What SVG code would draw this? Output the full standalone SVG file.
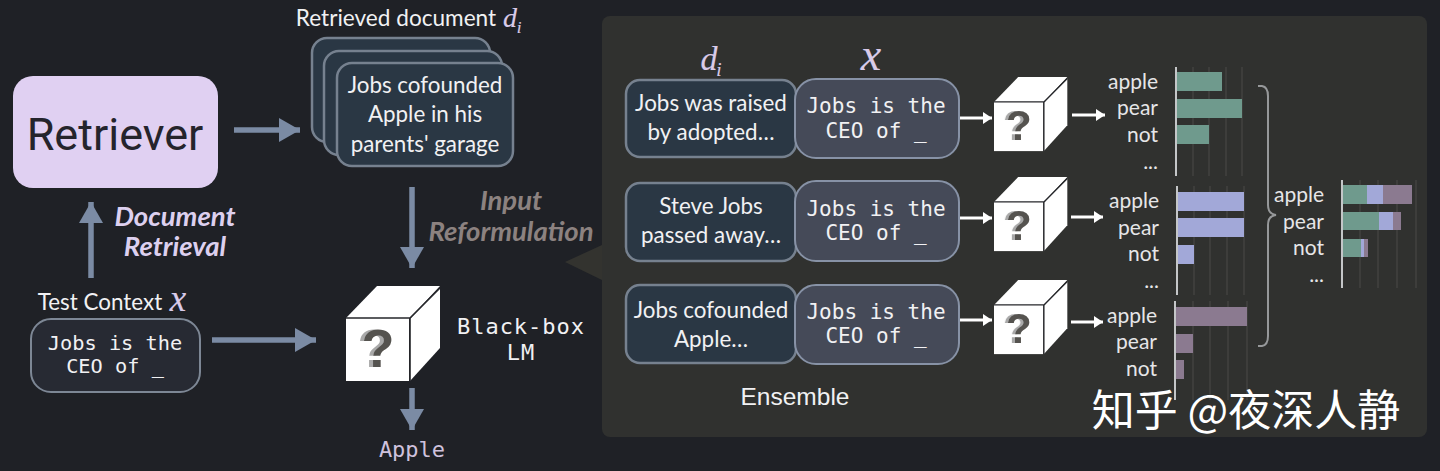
<svg xmlns="http://www.w3.org/2000/svg" xmlns:xlink="http://www.w3.org/1999/xlink" width="1440" height="471" viewBox="0 0 1440 471">
<style>
text{font-family:"Lato","Noto Sans",sans-serif;fill:#f1f1f3;text-anchor:middle}
.mono{font-family:"DejaVu Sans Mono","Liberation Mono",monospace}
.m21{font-size:21px}
.m20{font-size:20.3px}
.doc{font-size:22.4px}
.math{font-family:"Liberation Serif",serif;font-style:italic;fill:#d9cbe9;stroke:#d9cbe9;stroke-width:.15}
.lab{font-size:21px;text-anchor:end;fill:#e6e6e8}
.em{font-size:27.5px;font-weight:700;font-style:italic}
.docbox{fill:#2a3744;stroke:#76818f;stroke-width:2.5}
.ctx{fill:#454a58;stroke:#8792a6;stroke-width:2}
.big{stroke:#7b8ba4;stroke-width:5.5;fill:none}
.small{stroke:#fff;stroke-width:3;fill:none}
.axis{stroke:#c4c6c8;stroke-width:2}
.grid{stroke:#4a4b49;stroke-width:1}
.g{fill:#6f9a8d}.b{fill:#a2a8d8}.p{fill:#8b7a90}
.q{font-family:"Liberation Sans",sans-serif;font-weight:700;fill:#55534f;font-size:54px;filter:url(#ghost)}
</style>
<defs>
<marker id="h1" markerUnits="userSpaceOnUse" markerWidth="22" markerHeight="24" refX="21" refY="12" orient="auto"><path d="M0 0L21 12L0 24Z" fill="#7b8ba4"/></marker>
<marker id="h2" markerUnits="userSpaceOnUse" markerWidth="10" markerHeight="12" refX="9" refY="6" orient="auto"><path d="M0 0L9 6L0 12Z" fill="#fff"/></marker>
<filter id="ghost" x="-50%" y="-20%" width="200%" height="140%"><feDropShadow dx="-4" dy="0" stdDeviation="0.6" flood-color="#a9a9a9"/></filter>
<g id="cube">
<path d="M0 32L31 0H94L64 32Z" fill="#fff"/>
<path d="M64 33L94 2V62L64 95Z" fill="#fff"/>
<rect x="0" y="32" width="63" height="63" fill="#fff"/>
<path d="M0 32H64V95M64 32L94 2" fill="none" stroke="#26272b" stroke-width="1.6"/>
<text class="q" x="32" y="81">?</text>
</g>
</defs>
<rect width="1440" height="471" fill="#1f2126"/>
<g id="panel">
<path d="M565 262L602 245V280Z" fill="#33332f"/>
<rect x="602" y="16" width="825" height="421" rx="8" fill="#30312f"/>
</g>
<g id="connectors">
<line class="big" x1="234" y1="130" x2="300" y2="130" marker-end="url(#h1)"/>
<line class="big" x1="91" y1="278" x2="91" y2="202" marker-end="url(#h1)"/>
<line class="big" x1="412" y1="187" x2="412" y2="268" marker-end="url(#h1)"/>
<line class="big" x1="212" y1="340" x2="316" y2="340" marker-end="url(#h1)"/>
<line class="big" x1="412" y1="388" x2="412" y2="430" marker-end="url(#h1)"/>
<line class="small" x1="960" y1="118" x2="992" y2="118" marker-end="url(#h2)"/>
<line class="small" x1="1072" y1="115" x2="1105" y2="115" marker-end="url(#h2)"/>
<line class="small" x1="960" y1="218" x2="992" y2="218" marker-end="url(#h2)"/>
<line class="small" x1="1071" y1="217" x2="1103" y2="217" marker-end="url(#h2)"/>
<line class="small" x1="960" y1="320" x2="992" y2="320" marker-end="url(#h2)"/>
<line class="small" x1="1071" y1="322" x2="1103" y2="322" marker-end="url(#h2)"/>
</g>
<g id="retriever">
<rect x="13" y="76" width="205" height="112" rx="20" fill="#e0d0f2"/>
<text x="115" y="150" font-size="45" style="font-family:Roboto,sans-serif;fill:#25242c">Retriever</text>
</g>
<g id="doc-label"><text x="396" y="26" font-size="22.6">Retrieved document</text><text class="math" x="510" y="27" font-size="28">d</text><text class="math" x="519" y="33" font-size="17">i</text></g>
<g id="doc-stack">
<rect class="docbox" x="312" y="38" width="178" height="104" rx="15"/>
<rect class="docbox" x="324" y="51" width="178" height="104" rx="15"/>
<rect class="docbox" x="337" y="63" width="176" height="103" rx="15"/>
<text class="doc" x="425" y="93">Jobs cofounded</text>
<text class="doc" x="425" y="122">Apple in his</text>
<text class="doc" x="425" y="152">parents' garage</text>
</g>
<g id="doc-retrieval"><text class="em" x="175" y="226" style="fill:#ddd0ef">Document</text><text class="em" x="175" y="256" style="fill:#ddd0ef">Retrieval</text></g>
<g id="input-reformulation"><text class="em" x="511" y="210" style="fill:#8c8280">Input</text><text class="em" x="511" y="241" style="fill:#8c8280">Reformulation</text></g>
<g id="test-context">
<text x="100" y="310" font-size="22.4">Test Context</text><text class="math" x="178" y="311" font-size="37">x</text>
<rect x="31" y="319" width="169" height="73" rx="20" fill="#272a33" stroke="#7d8795" stroke-width="2"/>
<text class="mono m20" x="115" y="350">Jobs is the</text>
<text class="mono m20" x="115" y="373">CEO of _</text>
</g>
<g id="black-box"><use href="#cube" xlink:href="#cube" x="346" y="286"/>
<text class="mono" font-size="22" x="521" y="334" letter-spacing="1">Black-box</text><text class="mono" font-size="22" x="521" y="360" letter-spacing="1">LM</text></g>
<g id="apple-output"><text class="mono" x="412" y="457" font-size="22" style="fill:#cfc2dd">Apple</text></g>
<g id="column-heads"><text class="math" x="709" y="70" font-size="34">d</text><text class="math" x="719" y="76" font-size="19">i</text><text class="math" x="871" y="70" font-size="46">x</text></g>
<g id="row1">
<rect class="docbox" x="626" y="80" width="170" height="77" rx="14"/>
<rect class="ctx" x="795" y="79" width="164" height="79" rx="21"/>
<text class="doc" x="711" y="111">Jobs was raised</text><text class="doc" x="711" y="140">by adopted…</text>
<text class="mono m21" x="876" y="113">Jobs is the</text><text class="mono m21" x="876" y="138">CEO of _</text>
<g transform="translate(994 77) scale(.78 .78)"><use href="#cube" xlink:href="#cube"/></g>
</g>
<g id="row2">
<rect class="docbox" x="626" y="183" width="170" height="78" rx="14"/>
<rect class="ctx" x="795" y="181" width="164" height="80" rx="21"/>
<text class="doc" x="711" y="214">Steve Jobs</text><text class="doc" x="711" y="243">passed away…</text>
<text class="mono m21" x="876" y="216">Jobs is the</text><text class="mono m21" x="876" y="240">CEO of _</text>
<g transform="translate(994 177) scale(.78 .78)"><use href="#cube" xlink:href="#cube"/></g>
</g>
<g id="row3">
<rect class="docbox" x="626" y="285" width="170" height="78" rx="14"/>
<rect class="ctx" x="795" y="285" width="164" height="79" rx="21"/>
<text class="doc" x="711" y="318">Jobs cofounded</text><text class="doc" x="711" y="347">Apple…</text>
<text class="mono m21" x="876" y="319">Jobs is the</text><text class="mono m21" x="876" y="343">CEO of _</text>
<g transform="translate(994 280) scale(.78 .78)"><use href="#cube" xlink:href="#cube"/></g>
</g>
<g id="chart1">
<path class="grid" d="M1193 67V176M1209 67V176M1226 67V176M1242 67V176"/>
<rect class="g" x="1176" y="72" width="46" height="19"/><rect class="g" x="1176" y="99" width="66" height="19"/><rect class="g" x="1176" y="125" width="33" height="19"/>
<line class="axis" x1="1176" y1="67" x2="1176" y2="176"/>
<text class="lab" x="1158" y="89">apple</text><text class="lab" x="1158" y="115">pear</text><text class="lab" x="1158" y="142">not</text><text class="lab" x="1158" y="169">...</text>
</g>
<g id="chart2">
<path class="grid" d="M1194 186V295M1210 186V295M1227 186V295M1244 186V295"/>
<rect class="b" x="1177" y="192" width="67" height="19"/><rect class="b" x="1177" y="218" width="67" height="19"/><rect class="b" x="1177" y="245" width="17" height="19"/>
<line class="axis" x1="1177" y1="186" x2="1177" y2="295"/>
<text class="lab" x="1159" y="208">apple</text><text class="lab" x="1159" y="235">pear</text><text class="lab" x="1159" y="261">not</text><text class="lab" x="1159" y="288">...</text>
</g>
<g id="chart3">
<path class="grid" d="M1193 301V400M1210 301V400M1228 301V400M1247 301V400"/>
<rect class="p" x="1175" y="307" width="72" height="19"/><rect class="p" x="1175" y="334" width="18" height="19"/><rect class="p" x="1175" y="360" width="9" height="19"/>
<line class="axis" x1="1175" y1="301" x2="1175" y2="400"/>
<text class="lab" x="1157" y="323">apple</text><text class="lab" x="1157" y="349">pear</text><text class="lab" x="1157" y="376">not</text>
</g>
<g id="brace"><path d="M1258 86H1262Q1268 87 1268 96V205Q1268 214 1276 215Q1268 216 1268 225V336Q1268 345 1262 346H1258" fill="none" stroke="#96989a" stroke-width="2"/></g>
<g id="chart-ensemble">
<path class="grid" d="M1360 180V288M1378 180V288M1397 180V288M1416 180V288"/>
<rect class="g" x="1342" y="185" width="25" height="19"/><rect class="b" x="1367" y="185" width="16" height="19"/><rect class="p" x="1383" y="185" width="29" height="19"/>
<rect class="g" x="1342" y="212" width="37" height="18"/><rect class="b" x="1379" y="212" width="14" height="18"/><rect class="p" x="1393" y="212" width="8" height="18"/>
<rect class="g" x="1342" y="239" width="19" height="18"/><rect class="b" x="1361" y="239" width="3" height="18"/><rect class="p" x="1364" y="239" width="4" height="18"/>
<line class="axis" x1="1342" y1="180" x2="1342" y2="288"/>
<text class="lab" x="1324" y="202">apple</text><text class="lab" x="1324" y="229">pear</text><text class="lab" x="1324" y="255">not</text><text class="lab" x="1324" y="282">...</text>
</g>
<g id="ensemble"><text x="795" y="405" font-size="24.5" style="font-family:'Liberation Sans',sans-serif">Ensemble</text></g>
<g id="watermark"><text x="1246" y="426" font-size="43" style="font-family:'Noto Sans CJK SC',sans-serif;fill:#fff">知乎 @夜深人静</text></g>
</svg>
